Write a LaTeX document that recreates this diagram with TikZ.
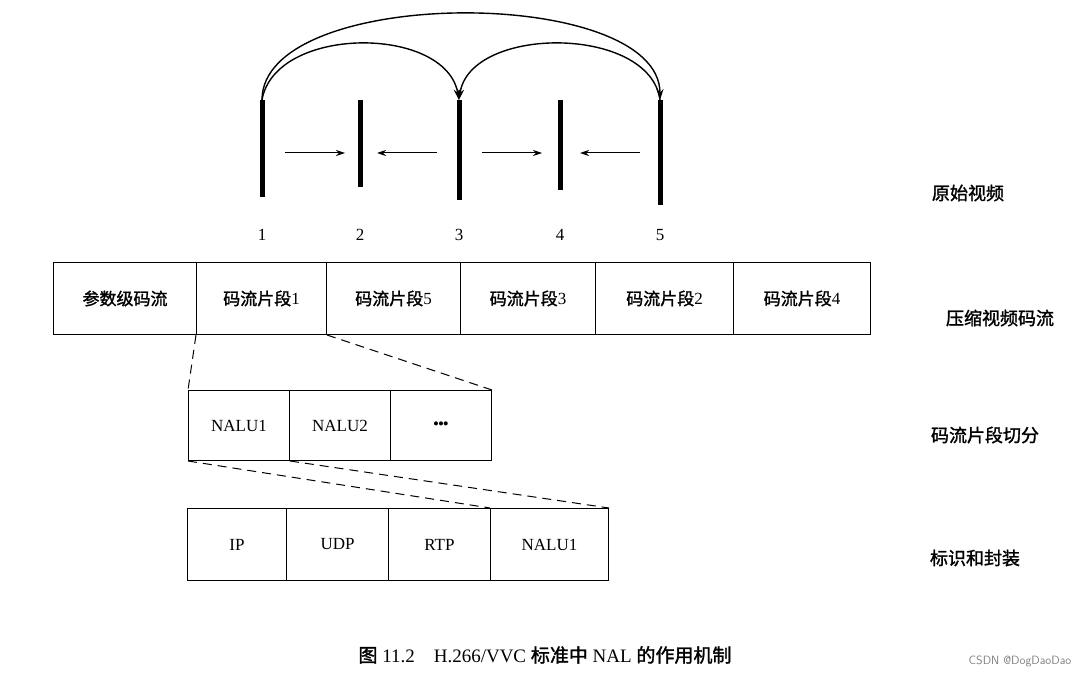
\documentclass[tikz,border=0pt]{standalone}
\usepackage{fontspec}
\setmainfont{Liberation Serif}
\newfontfamily\cjk[FakeBold=1.5]{Noto Sans CJK SC}
\usetikzlibrary{arrows.meta}
\begin{document}
\begin{tikzpicture}[x=1pt,y=-1pt,
  bar/.style={line width=5pt},
  cell/.style={draw,line width=1pt,minimum height=72pt,inner sep=0pt,font=\fontsize{17}{20}\selectfont},
  lab/.style={font=\cjk\fontsize{18}{20}\selectfont},
  num/.style={font=\fontsize{17}{20}\selectfont},
  sarr/.style={-{Stealth[length=9pt,width=6pt]},line width=1pt},
  arc/.style={-{Stealth[length=11pt,width=7pt]},line width=1.4pt},
  dsh/.style={dashed,dash pattern=on 9pt off 6pt,line width=1pt}]
\useasboundingbox (0,0) rectangle (1089,679);
% bars
\foreach \n/\x/\b in {1/262/197,2/360/187,3/459/200,4/560/190,5/660/205}{
  \coordinate (t\n) at (\x,100);
  \draw[bar] (\x,100) -- (\x,\b);
  \node[num] (n\n) at (\x,235) {\n};
}
\coordinate (a1) at (285,153); \coordinate (b1) at (345,153);
\coordinate (a2) at (437,153); \coordinate (b2) at (377,153);
\coordinate (a3) at (482,153); \coordinate (b3) at (542,153);
\coordinate (a4) at (640,153); \coordinate (b4) at (580,153);
\foreach \i in {1,2,3,4}{\draw[sarr] (a\i) -- (b\i);}
\draw[arc] (t1) .. controls (262,-15) and (660,-15) .. (t5);
\draw[arc] (t1) .. controls (275,25) and (446,25) .. (t3);
\draw[arc] (t5) .. controls (650,25) and (470,25) .. (t3);
% row 1
\foreach \i/\x/\w/\t in {1/53/143/{{\cjk 参数级码流}},2/196/130/{{\cjk 码流片段}1},3/326/134/{{\cjk 码流片段}5},4/460/135/{{\cjk 码流片段}3},5/595/138/{{\cjk 码流片段}2},6/733/137/{{\cjk 码流片段}4}}{
  \node[cell,minimum width=\w pt,anchor=north west] (r\i) at (\x,262) {\t};
}
% row 2
\foreach \i/\x/\t in {1/188/NALU1,2/289/NALU2,3/390/{\textbullet\kern-1pt\textbullet\kern-1pt\textbullet}}{
  \node[cell,minimum width=101pt,minimum height=70pt,anchor=north west] (s\i) at (\x,390) {\t};
}
% row 3
\foreach \i/\x/\w/\t in {1/187/99/IP,2/286/102/UDP,3/388/102/RTP,4/490/118/NALU1}{
  \node[cell,minimum width=\w pt,anchor=north west] (u\i) at (\x,508) {\t};
}
\draw[dsh] (r2.south west) -- (s1.north west);
\draw[dsh] (r2.south east) -- (s3.north east);
\draw[dsh] (s1.south west) -- (u4.north west);
\draw[dsh] (s1.south east) -- (u4.north east);
% right labels
\node[lab] (L1) at (968,193) {原始视频};
\node[lab] (L2) at (1000,318) {压缩视频码流};
\node[lab] (L3) at (985,435) {码流片段切分};
\node[lab] (L4) at (975,558) {标识和封装};
\node[font=\fontsize{19}{22}\selectfont] (cap) at (545,655) {{\cjk 图} 11.2\quad H.266/VVC {\cjk 标准中} NAL {\cjk 的作用机制}};
\node[font=\sffamily\fontsize{12}{14}\selectfont,text=gray] (wm) at (1020,661) {CSDN @DogDaoDao};
\end{tikzpicture}
\end{document}
